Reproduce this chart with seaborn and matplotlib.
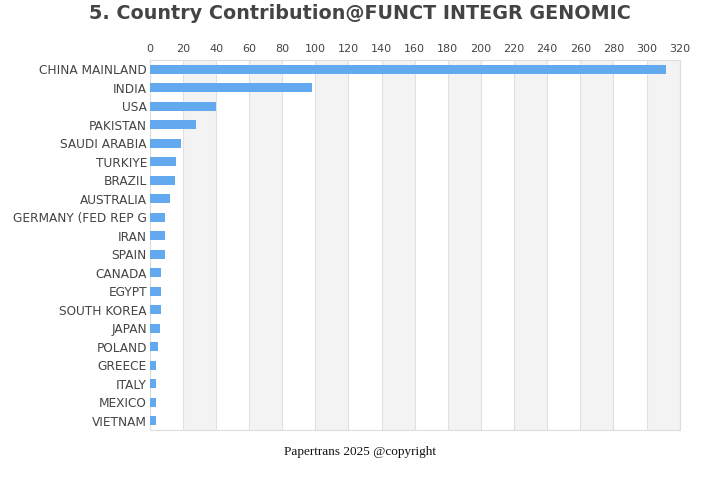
import pandas as pd
import matplotlib.pyplot as plt
import seaborn as sns

# Country contribution counts
countries = ['CHINA MAINLAND', 'INDIA', 'USA', 'PAKISTAN', 'SAUDI ARABIA', 'TURKIYE',
             'BRAZIL', 'AUSTRALIA', 'GERMANY (FED REP G', 'IRAN', 'SPAIN', 'CANADA',
             'EGYPT', 'SOUTH KOREA', 'JAPAN', 'POLAND', 'GREECE', 'ITALY', 'MEXICO', 'VIETNAM']
counts = [312, 98, 40, 28, 19, 16, 15, 12, 9, 9, 9, 7, 7, 7, 6, 5, 4, 4, 4, 4]
x_ticks = list(range(0, 321, 20))

df = pd.DataFrame({'Country': countries, 'Count': counts})

sns.set_style('white')
plt.rcParams['font.family'] = ['DejaVu Sans']
fig = plt.figure(figsize=(7.2, 4.8), dpi=100)
ax = fig.add_axes([0.208, 0.104, 0.736, 0.771])

# alternating background bands
for i, t in enumerate(x_ticks[:-1]):
    if i % 2 == 1:
        ax.axvspan(t, t + 20, color='#f3f3f3', zorder=0, linewidth=0)

sns.barplot(x='Count', y='Country', data=df, orient='h', color='#62a9f0',
            width=0.48, saturation=1, linewidth=0, ax=ax, zorder=3)

ax.set_xlim(0, 320)
ax.set_ylim(19.5, -0.5)
ax.set_xticks(x_ticks)
ax.xaxis.tick_top()
ax.grid(axis='x', color='#e0e0e0', linewidth=0.8, zorder=1)
ax.set_axisbelow(True)
ax.tick_params(axis='x', length=0, labelsize=8, colors='#444444', pad=4)
ax.tick_params(axis='y', length=0, labelsize=8.7, colors='#444444', pad=2)
ax.set_xlabel('')
ax.set_ylabel('')
for s in ax.spines.values():
    s.set_color('#dddddd')
    s.set_linewidth(0.8)

fig.text(0.5, 0.972, '5. Country Contribution@FUNCT INTEGR GENOMIC', ha='center', va='center',
         fontsize=13.8, fontweight='bold', color='#444444')
fig.text(0.5, 0.058, 'Papertrans 2025 @copyright', ha='center', va='center',
         fontsize=9.5, family='Liberation Serif', color='#111111')

plt.savefig('out.png', dpi=100)
